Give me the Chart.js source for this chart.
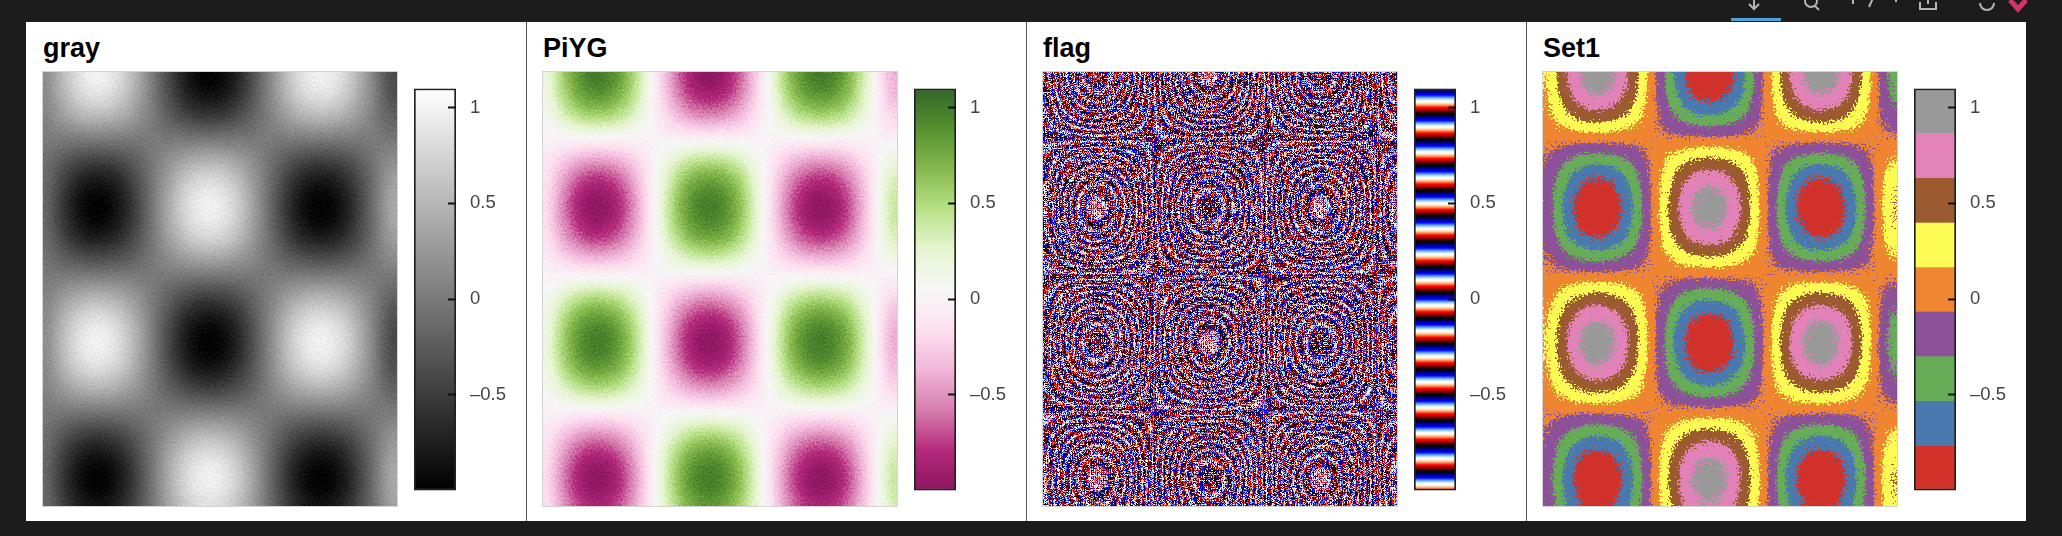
<!DOCTYPE html>
<html>
<head>
<meta charset="utf-8">
<title>colormaps</title>
<script src="https://cdn.jsdelivr.net/npm/chart.js@4"></script>
<style>
html, body { margin: 0; background: #1c1c1c; overflow: hidden; }
#sheet { position: absolute; left: 26px; top: 22px; width: 2000px; height: 499px; background: #fff; }
.divider { position: absolute; top: 22px; width: 1px; height: 499px; background: #555; }
#tab { position: absolute; left: 1731px; top: 18px; width: 50px; height: 3px; background: #4aa3df; }
#chrome { position: absolute; left: 1730px; top: 0; }
.slot { position: absolute; }
.slot canvas { display: block; }
.map { outline: 1px solid #d4d4d4; }
.name { position: absolute; top: 33px; font: bold 27px/30px "Liberation Sans", Arial, sans-serif; color: #000; }
</style>
</head>
<body>
<div id="sheet"></div>
<div id="tab"></div>
<svg id="chrome" width="300" height="14" fill="none" stroke="#b5b5b5" stroke-width="2">
  <path d="M24 -2V8M19 4l5 5 5-5"/>
  <circle cx="81" cy="1" r="6"/><path d="M85 6l4 4"/>
  <path d="M123 -2v6M143 -2l-4 9M166 -2v4"/>
  <path d="M190 2v7h16V2M198 -2v6"/>
  <path d="M250 3a7 7 0 0 0 14 0"/>
  <path d="M280 0l8 9 8-9" stroke="#d6336c" stroke-width="5"/>
</svg>
<div class="divider" style="left:526px"></div>
<div class="divider" style="left:1026px"></div>
<div class="divider" style="left:1526px"></div>
<svg width="0" height="0" style="position:absolute"><defs id="filters"></defs></svg>
<script>
const mapNames = ["gray", "PiYG", "flag", "Set1"];
const tickValues = [1, 0.5, 0, -0.5];
const tickLabels = ["1", "0.5", "0", "\u20130.5"];
const barRange = [-1, 1.1];

// field, hundredths, one row per line top to bottom
const heightRows = [
[17,41,68,83,99,102,93,85,62,42,11,-16,-40,-67,-83,-98,-99,-97,-82,-68,-40,-17,14,38,68,82,98,101,94,87,65,43,14,-16,-38],
[15,43,61,82,90,97,92,77,63,36,14,-13,-42,-60,-83,-89,-97,-90,-82,-61,-42,-12,11,40,61,82,89,97,93,79,65,37,17,-15,-36],
[12,38,54,74,80,87,79,72,52,36,9,-15,-34,-57,-70,-84,-83,-84,-70,-58,-34,-14,12,32,58,70,84,83,83,71,59,33,15,-11,-36],
[13,28,48,58,70,68,69,56,47,26,11,-9,-31,-44,-62,-65,-72,-65,-61,-44,-31,-8,8,29,44,61,65,72,65,62,45,30,10,-12,-26],
[7,24,33,45,52,50,51,42,35,19,9,-9,-20,-35,-43,-52,-50,-51,-42,-36,-20,-9,5,22,33,45,48,54,48,46,33,23,7,-9,-19],
[3,14,17,26,27,30,26,25,17,13,2,-5,-14,-17,-26,-26,-30,-26,-25,-18,-13,-3,5,10,20,23,29,28,29,23,21,11,6,-5,-13],
[3,1,6,3,7,5,7,3,5,1,2,0,-4,-3,-7,-5,-7,-4,-6,-3,-4,1,2,1,6,4,7,5,7,3,6,1,3,-2,-4],
[-4,-6,-13,-13,-18,-16,-17,-13,-12,-6,-3,4,6,12,13,18,16,17,13,12,6,4,-3,-8,-10,-16,-15,-18,-15,-16,-10,-8,-2,3,6],
[-5,-19,-25,-36,-37,-41,-36,-35,-24,-17,-4,5,18,25,35,37,41,37,35,25,18,5,-6,-15,-28,-32,-40,-39,-39,-33,-28,-15,-7,7,15],
[-11,-24,-41,-49,-60,-58,-59,-48,-40,-23,-9,10,24,40,50,59,58,59,49,41,24,10,-7,-25,-38,-52,-56,-62,-56,-53,-39,-26,-9,10,23],
[-11,-35,-49,-67,-73,-79,-71,-66,-48,-32,-9,12,31,51,65,75,76,75,64,52,31,13,-11,-30,-52,-63,-76,-75,-76,-64,-53,-30,-14,11,32],
[-16,-37,-60,-74,-88,-87,-86,-72,-59,-34,-13,14,36,59,77,84,90,84,76,60,36,14,-10,-37,-57,-76,-84,-91,-84,-77,-58,-38,-13,14,34],
[-14,-43,-63,-84,-93,-98,-91,-82,-61,-40,-11,15,40,64,81,95,96,94,82,63,42,13,-14,-38,-65,-80,-95,-96,-94,-81,-66,-39,-16,14,40],
[-17,-42,-68,-83,-99,-98,-97,-81,-66,-38,-14,16,41,67,83,98,99,97,82,68,40,16,-12,-42,-64,-86,-94,-102,-94,-87,-65,-43,-14,16,38],
[-14,-44,-62,-84,-92,-98,-91,-82,-60,-40,-11,15,42,62,84,92,98,92,83,63,39,16,-14,-38,-65,-80,-95,-96,-94,-81,-66,-39,-16,13,40],
[-15,-39,-58,-76,-86,-90,-83,-75,-56,-36,-11,13,38,57,76,85,88,86,74,59,37,13,-12,-35,-59,-74,-86,-89,-85,-76,-60,-36,-15,13,36],
[-13,-32,-52,-64,-76,-76,-74,-63,-50,-30,-11,11,33,49,66,73,78,73,66,50,33,11,-9,-32,-50,-66,-73,-78,-73,-66,-51,-32,-12,12,30],
[-9,-25,-38,-49,-56,-58,-55,-48,-37,-23,-8,9,24,38,49,56,58,56,49,38,24,9,-8,-23,-38,-49,-56,-58,-56,-49,-39,-24,-9,9,23],
[-6,-16,-24,-31,-36,-37,-35,-31,-24,-15,-5,6,16,24,31,36,37,36,31,24,16,6,-5,-15,-24,-31,-36,-37,-36,-31,-25,-15,-6,6,15],
[-2,-6,-10,-13,-15,-15,-14,-12,-10,-6,-2,2,6,10,13,14,15,14,13,10,6,2,-2,-6,-10,-13,-14,-15,-14,-13,-10,-6,-2,2,6],
[1,3,5,7,8,8,8,7,5,3,1,-1,-3,-5,-7,-8,-8,-8,-7,-5,-3,-1,1,3,5,7,8,8,8,7,5,3,1,-1,-3],
[5,13,20,26,30,31,29,26,20,12,4,-5,-13,-20,-26,-30,-31,-30,-26,-20,-13,-5,4,12,20,26,30,31,30,26,21,13,5,-5,-12],
[9,21,36,43,51,53,48,44,32,22,6,-8,-21,-35,-43,-51,-53,-49,-45,-33,-23,-7,6,22,35,43,51,52,48,45,34,22,9,-7,-22],
[11,31,45,61,67,72,65,59,44,29,8,-11,-28,-47,-59,-68,-69,-68,-57,-48,-28,-11,9,27,47,59,67,71,66,60,48,27,12,-10,-29],
[14,36,57,72,83,84,82,70,55,33,12,-13,-35,-56,-73,-81,-86,-81,-72,-55,-37,-12,11,34,57,71,82,85,81,73,56,36,13,-13,-33],
[15,42,62,81,91,96,90,80,60,39,12,-15,-39,-62,-81,-90,-95,-92,-79,-64,-39,-15,13,37,63,80,91,96,90,82,63,40,15,-14,-39],
[17,42,67,84,98,99,96,82,65,39,14,-16,-41,-66,-84,-97,-99,-95,-85,-65,-43,-14,12,41,65,85,95,101,95,84,68,40,17,-15,-41],
[15,44,64,85,95,100,93,83,62,40,12,-14,-43,-64,-83,-96,-98,-96,-82,-66,-41,-16,14,39,66,82,96,98,96,83,67,40,15,-16,-38],
[16,39,62,78,91,92,89,76,60,37,13,-14,-39,-61,-79,-89,-93,-89,-79,-61,-39,-14,12,37,62,78,89,94,89,79,62,38,16,-14,-37],
[12,36,55,70,79,83,77,69,52,33,10,-12,-35,-53,-70,-79,-82,-79,-68,-54,-35,-12,11,33,55,69,79,82,79,70,55,34,13,-12,-33],
[11,28,44,56,64,66,63,55,42,26,9,-10,-28,-43,-56,-63,-66,-63,-55,-44,-28,-10,9,26,44,55,63,66,63,56,44,27,11,-10,-26],
[8,20,31,40,46,47,45,39,30,19,6,-7,-20,-30,-40,-45,-47,-45,-39,-31,-20,-7,6,19,31,39,45,47,45,40,31,19,8,-7,-19],
[4,11,17,21,24,25,24,21,16,10,3,-4,-11,-16,-21,-24,-25,-24,-21,-17,-11,-4,3,10,17,21,24,25,24,21,17,10,4,-4,-10],
[0,1,1,2,2,2,2,2,1,1,0,0,-1,-1,-2,-2,-2,-2,-2,-1,-1,0,0,1,1,2,2,2,2,2,1,1,0,0,-1],
[-3,-9,-14,-18,-20,-21,-20,-17,-13,-8,-3,3,9,14,18,20,21,20,18,14,9,3,-3,-8,-14,-18,-20,-21,-20,-18,-14,-9,-3,3,8],
[-7,-18,-28,-36,-41,-42,-40,-35,-27,-17,-5,6,18,27,36,40,42,40,35,28,18,6,-5,-17,-28,-35,-40,-42,-40,-36,-28,-17,-7,6,17],
[-10,-27,-41,-53,-60,-62,-59,-51,-40,-25,-8,9,26,40,53,60,62,60,52,41,26,9,-8,-25,-41,-52,-60,-62,-60,-53,-42,-25,-10,9,25],
[-12,-34,-51,-66,-76,-78,-74,-65,-50,-31,-10,12,33,51,66,75,78,75,66,51,33,12,-10,-31,-51,-66,-75,-78,-75,-66,-52,-32,-12,12,31],
[-14,-39,-59,-77,-87,-90,-86,-75,-58,-36,-12,14,38,59,77,86,90,86,76,59,38,14,-12,-36,-59,-76,-86,-90,-86,-77,-60,-37,-14,14,36],
[-16,-42,-65,-83,-95,-98,-93,-81,-63,-39,-13,15,41,64,83,94,98,94,82,65,41,15,-13,-39,-65,-82,-94,-98,-94,-83,-66,-40,-16,15,39],
[-16,-43,-66,-85,-97,-100,-95,-83,-64,-40,-13,15,42,65,85,96,100,96,84,66,42,15,-13,-40,-66,-84,-96,-100,-96,-85,-67,-41,-16,15,40],
[-15,-42,-64,-82,-94,-97,-92,-81,-62,-39,-13,15,41,63,82,93,97,93,81,64,41,15,-13,-39,-64,-81,-93,-97,-93,-82,-65,-40,-15,15,39],
[-14,-37,-57,-74,-84,-87,-83,-72,-56,-35,-11,13,37,57,74,84,87,84,73,57,37,13,-11,-35,-57,-73,-84,-87,-84,-74,-58,-36,-14,13,35]
];

const piygStops = ["#8c1560", "#b52a7c", "#d77eaf", "#f1b6da", "#fde0ef", "#f7f7f7", "#e6f5d0", "#b8e186", "#86b84e", "#56902f", "#33652a"];
const set1Bands = ["#d0322a", "#4a79b0", "#67ac57", "#8d5199", "#f08532", "#fdfc54", "#9b5a30", "#e482ba", "#999999"];

function hexRgb(h) {
  return [1, 3, 5].map(i => parseInt(h.slice(i, i + 2), 16));
}

// t runs 0..1 over barRange, every map returns [r, g, b]
const colorMaps = {
  gray: t => [255 * t, 255 * t, 255 * t],
  PiYG: t => {
    const p = t * (piygStops.length - 1);
    const i = Math.min(Math.floor(p), piygStops.length - 2);
    const a = hexRgb(piygStops[i]);
    const b = hexRgb(piygStops[i + 1]);
    return a.map((v, k) => v + (b[k] - v) * (p - i));
  },
  flag: t => {
    const clamp = v => 255 * Math.min(1, Math.max(0, v));
    return [
      clamp(0.75 * Math.sin((t * 31.5 + 0.25) * Math.PI) + 0.5),
      clamp(Math.sin(t * 31.5 * Math.PI)),
      clamp(0.75 * Math.sin((t * 31.5 - 0.25) * Math.PI) + 0.5)
    ];
  },
  Set1: t => hexRgb(set1Bands[Math.min(Math.floor(t * set1Bands.length), set1Bands.length - 1)])
};

function css(rgb) {
  return `rgb(${Math.round(rgb[0])},${Math.round(rgb[1])},${Math.round(rgb[2])})`;
}

function toT(z) {
  const t = (z - barRange[0]) / (barRange[1] - barRange[0]);
  return Math.min(1, Math.max(0, t));
}

// The cells go to the canvas as levels of gray. Each panel's svg filter softens the
// cell edges, adds the fine grain seen in the picture, then looks the level up in its map.
function buildFilter(name) {
  const samples = [];
  for (let i = 0; i < 256; i++) samples.push(colorMaps[name](i / 255));
  const table = k => samples.map(s => (s[k] / 255).toFixed(3)).join(" ");
  return `<filter id="map-${name}" x="0" y="0" width="100%" height="100%" color-interpolation-filters="sRGB">
    <feGaussianBlur in="SourceGraphic" stdDeviation="4.5"/>
    <feComponentTransfer result="soft"><feFuncA type="discrete" tableValues="1"/></feComponentTransfer>
    <feTurbulence type="fractalNoise" baseFrequency="0.5" numOctaves="1" seed="7"/>
    <feColorMatrix values="1 0 0 0 0 1 0 0 0 0 1 0 0 0 0 0 0 0 0 1" result="grain"/>
    <feComposite in="soft" in2="grain" operator="arithmetic" k1="0" k2="1" k3="0.15" k4="-0.075"/>
    <feComponentTransfer>
      <feFuncR type="discrete" tableValues="${table(0)}"/>
      <feFuncG type="discrete" tableValues="${table(1)}"/>
      <feFuncB type="discrete" tableValues="${table(2)}"/>
      <feFuncA type="discrete" tableValues="1"/>
    </feComponentTransfer>
  </filter>`;
}
document.getElementById("filters").innerHTML = mapNames.map(buildFilter).join("");

function addCanvas(left, top, width, height) {
  const slot = document.createElement("div");
  slot.className = "slot";
  slot.style.cssText = `left:${left}px;top:${top}px;width:${width}px;height:${height}px`;
  const canvas = document.createElement("canvas");
  canvas.width = width;
  canvas.height = height;
  slot.appendChild(canvas);
  document.body.appendChild(slot);
  return canvas;
}

const cells = heightRows.flatMap((row, r) => row.map((v, c) => ({ x: c, y: r, z: v / 100 })));

function drawHeatmap(name, left) {
  const canvas = addCanvas(left, 72, 354, 434);
  canvas.parentNode.classList.add("map");
  canvas.style.filter = `url(#map-${name})`;
  new Chart(canvas, {
    type: "scatter",
    data: {
      datasets: [{
        data: cells,
        clip: 0,
        pointStyle: "rect",
        pointRadius: 7.8,
        pointBorderWidth: 0,
        pointBackgroundColor: ctx => {
          const g = Math.round(255 * toT(ctx.raw.z));
          return `rgb(${g},${g},${g})`;
        }
      }]
    },
    options: {
      responsive: false,
      animation: false,
      events: [],
      layout: { padding: 0, autoPadding: false },
      plugins: { legend: { display: false }, tooltip: { enabled: false } },
      scales: {
        x: { display: false, min: -0.5, max: heightRows[0].length - 0.5 },
        y: { display: false, reverse: true, min: -0.5, max: heightRows.length - 0.5 }
      }
    }
  });
  const label = document.createElement("div");
  label.className = "name";
  label.style.left = left + "px";
  label.textContent = name;
  document.body.appendChild(label);
}

function drawColorbar(name, left) {
  const paint = colorMaps[name];
  new Chart(addCanvas(left - 2, 87, 112, 405), {
    type: "bar",
    data: {
      labels: [name],
      datasets: [{
        data: [barRange],
        barPercentage: 1,
        categoryPercentage: 1,
        borderWidth: 2,
        borderColor: "#222",
        borderSkipped: false,
        backgroundColor: ctx => {
          const { chart } = ctx;
          if (!chart.chartArea) return "#888";
          const y = chart.scales.y;
          const grad = chart.ctx.createLinearGradient(0, y.getPixelForValue(barRange[0]), 0, y.getPixelForValue(barRange[1]));
          for (let i = 0; i <= 700; i++) grad.addColorStop(i / 700, css(paint(i / 700)));
          return grad;
        }
      }]
    },
    options: {
      responsive: false,
      animation: false,
      events: [],
      layout: { padding: { left: 2, top: 1.5, bottom: 1.5, right: 0 }, autoPadding: false },
      plugins: { legend: { display: false }, tooltip: { enabled: false } },
      scales: {
        x: { display: false },
        y: {
          position: "right",
          min: barRange[0],
          max: barRange[1],
          afterFit: sc => { sc.width = 68; sc.paddingTop = 0; sc.paddingBottom = 0; },
          afterBuildTicks: sc => { sc.ticks = tickValues.map(v => ({ value: v })); },
          border: { display: false },
          grid: { drawOnChartArea: false, z: 1, tickLength: -8, tickWidth: 2, tickColor: "#111" },
          ticks: {
            autoSkip: false,
            padding: 22,
            color: "#444",
            font: { family: "'Liberation Sans', Arial, sans-serif", size: 18.5 },
            callback: (v, i) => tickLabels[i]
          }
        }
      }
    }
  });
}

mapNames.forEach((name, i) => {
  drawHeatmap(name, 43 + i * 500);
  drawColorbar(name, 414 + i * 500);
});
</script>
</body>
</html>
